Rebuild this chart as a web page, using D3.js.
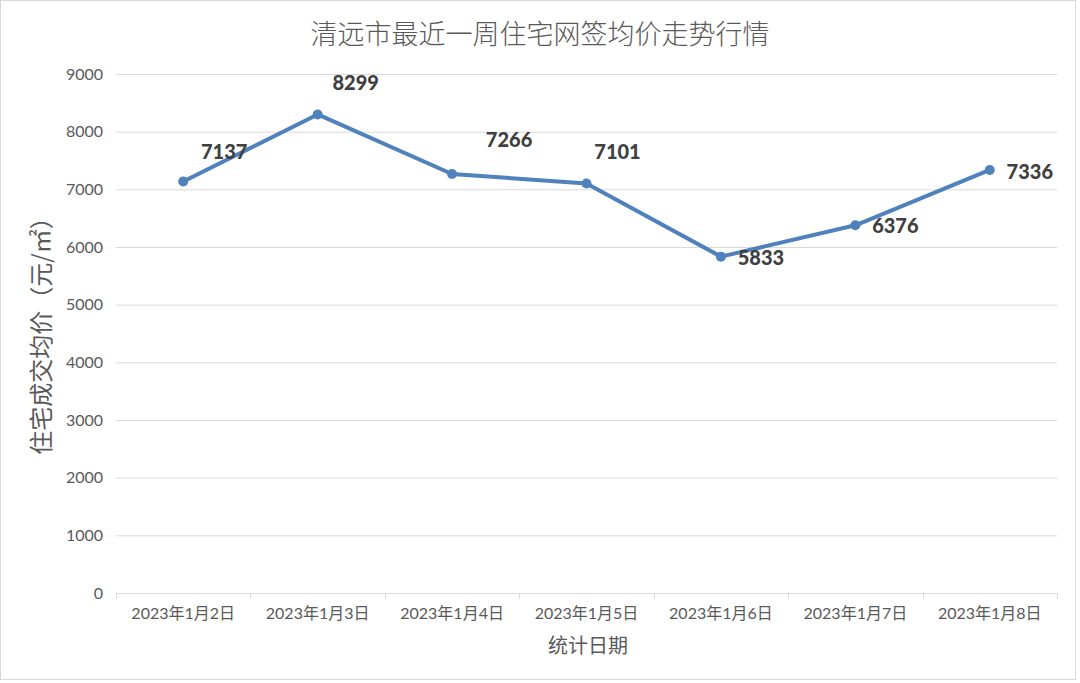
<!DOCTYPE html>
<html>
<head>
<meta charset="utf-8">
<script src="https://cdn.jsdelivr.net/npm/d3@7"></script>
<style>
  body { margin: 0; background: #fff; }
  svg { display: block; }
  .grid line { stroke: #d9d9d9; stroke-width: 1; }
  .grid .domain { display: none; }
  .axis text { fill: #595959; font-family: Lato, "Noto Sans CJK SC", sans-serif; font-size: 16px; }
</style>
</head>
<body>
<svg id="chart" width="1080" height="683"></svg>
<script>
// data
const dates = ["2023年1月2日", "2023年1月3日", "2023年1月4日", "2023年1月5日", "2023年1月6日", "2023年1月7日", "2023年1月8日"];
const prices = [7137, 8299, 7266, 7101, 5833, 6376, 7336];
const yTicks = [0, 1000, 2000, 3000, 4000, 5000, 6000, 7000, 8000, 9000];
// label nudges (px), the way they were dragged around in the original
const labelDx = [41, 38, 57, 31, 40, 40, 40];
const labelDy = [-29, -31, -34, -32, 1, 1, 2];

const svg = d3.select("#chart");
const W = 1080, H = 683;
const margin = { top: 74, right: 23, bottom: 90, left: 116 },
  width = W - margin.left - margin.right,
  height = H - margin.top - margin.bottom;

// outer border
svg.append("rect")
  .attr("x", 0.5).attr("y", 0.5)
  .attr("width", W - 5).attr("height", H - 4)
  .attr("fill", "#fff").attr("stroke", "#d9d9d9");

const g = svg.append("g")
  .attr("transform", "translate(" + margin.left + "," + margin.top + ")");

const x = d3.scaleBand().domain(dates).range([0, width]);
const y = d3.scaleLinear().domain([0, 9000]).range([height, 0]);

// horizontal gridlines + y tick labels
g.append("g")
  .attr("class", "grid")
  .call(d3.axisLeft(y).tickValues(yTicks).tickSize(-width).tickFormat(""));

const yAx = g.append("g")
  .attr("class", "axis")
  .call(d3.axisLeft(y).tickValues(yTicks).tickSize(0).tickPadding(13).tickFormat(d3.format("d")));
yAx.select(".domain").remove();

// x axis with ticks at category boundaries
g.append("line")
  .attr("x1", 0).attr("x2", width)
  .attr("y1", height + 0.5).attr("y2", height + 0.5)
  .attr("stroke", "#d9d9d9");

g.selectAll(".xtick")
  .data(d3.range(dates.length + 1))
  .join("line")
  .attr("class", "xtick")
  .attr("x1", i => Math.round(i * x.bandwidth()) + 0.5)
  .attr("x2", i => Math.round(i * x.bandwidth()) + 0.5)
  .attr("y1", height).attr("y2", height + 6)
  .attr("stroke", "#d9d9d9");

const xAx = g.append("g")
  .attr("class", "axis")
  .attr("transform", "translate(0," + height + ")")
  .call(d3.axisBottom(x).tickSize(0).tickPadding(15));
xAx.select(".domain").remove();

// line
const cx = d => x(d) + x.bandwidth() / 2;
const line = d3.line()
  .x((d, i) => cx(dates[i]))
  .y(d => y(d));

g.append("path")
  .datum(prices)
  .attr("fill", "none")
  .attr("stroke", "#4f81bd")
  .attr("stroke-width", 4)
  .attr("stroke-linejoin", "round")
  .attr("d", line);

g.selectAll(".dot")
  .data(prices)
  .join("circle")
  .attr("class", "dot")
  .attr("cx", (d, i) => cx(dates[i]))
  .attr("cy", d => y(d))
  .attr("r", 5)
  .attr("fill", "#4f81bd");

g.selectAll(".lbl")
  .data(prices)
  .join("text")
  .attr("class", "lbl")
  .attr("x", (d, i) => cx(dates[i]) + labelDx[i])
  .attr("y", (d, i) => y(d) + labelDy[i])
  .attr("dy", "0.35em")
  .attr("text-anchor", "middle")
  .style("font-family", "Lato, sans-serif")
  .style("font-weight", 900)
  .style("font-size", "20px")
  .style("fill", "#404040")
  .text(d => d);

// titles
svg.append("text")
  .attr("x", W / 2)
  .attr("y", 35)
  .attr("dy", "0.35em")
  .attr("text-anchor", "middle")
  .style("font-family", "'Noto Sans CJK SC', sans-serif")
  .style("font-weight", 300)
  .style("font-size", "27px")
  .style("fill", "#595959")
  .text("清远市最近一周住宅网签均价走势行情");

svg.append("text")
  .attr("x", 588)
  .attr("y", 646)
  .attr("dy", "0.35em")
  .attr("text-anchor", "middle")
  .style("font-family", "'Noto Sans CJK SC', sans-serif")
  .style("font-size", "20px")
  .style("fill", "#595959")
  .text("统计日期");

svg.append("text")
  .attr("transform", "translate(42," + 330 + ") rotate(-90)")
  .attr("dy", "0.35em")
  .attr("text-anchor", "middle")
  .style("font-family", "'Noto Sans CJK SC', sans-serif")
  .style("font-size", "24px")
  .style("fill", "#595959")
  .text("住宅成交均价（元/㎡）");
</script>
</body>
</html>
